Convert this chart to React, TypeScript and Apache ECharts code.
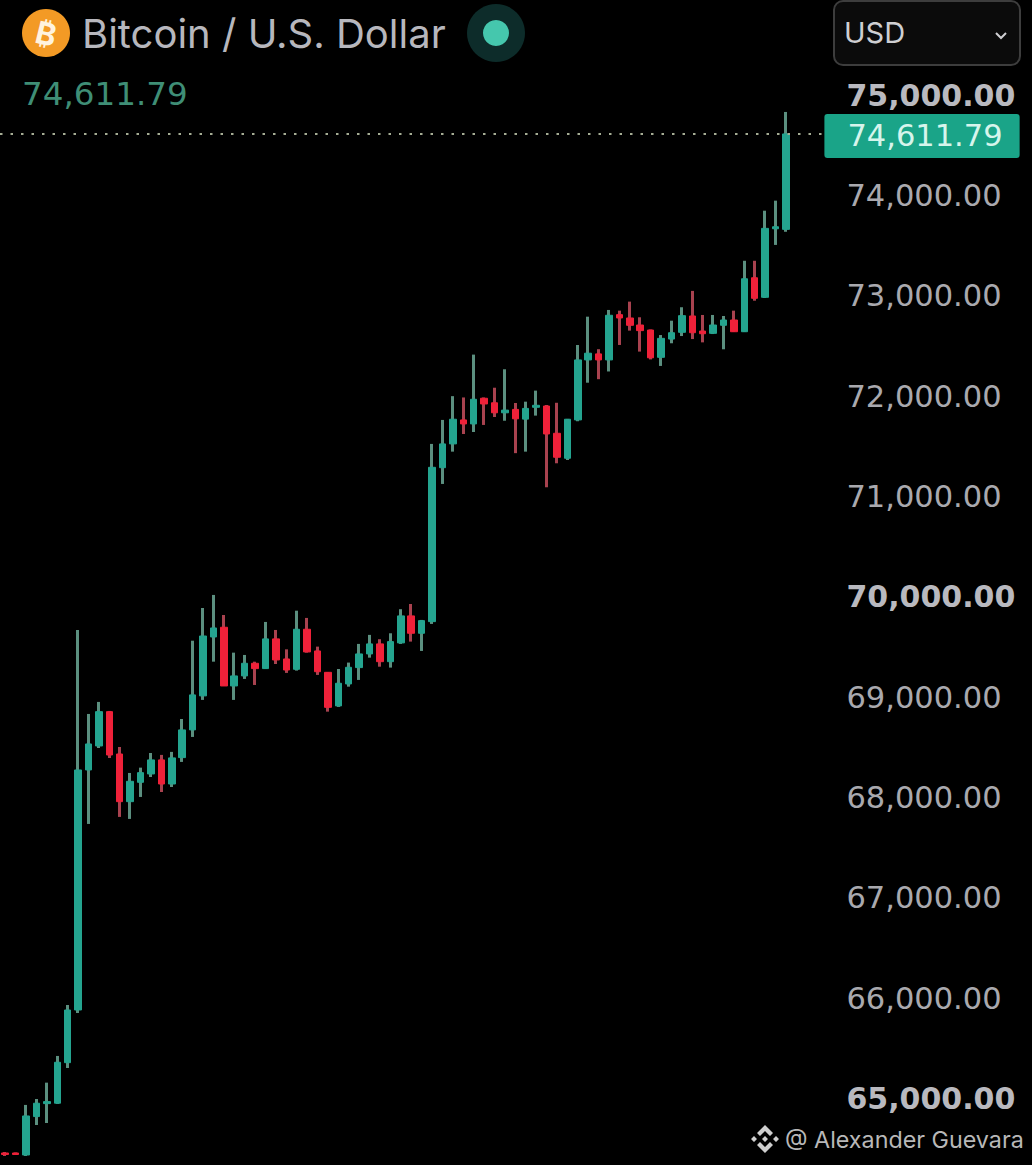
import React, { useEffect, useRef } from "react";
import * as echarts from "echarts";

const opens = [64457,64457,64437,64820,64949,64953,65357,65882,68274,68513,68855,68433,67958,68151,68234,68374,68134,68397,68673,69012,69599,69696,69111,69211,69337,69284,69580,69380,69277,69676,69460,69247,68912,69131,69294,69430,69530,69353,69540,69809,69636,69752,71286,71523,71762,71722,71978,71933,71833,71867,71770,71888,71901,71629,71380,71762,72360,72420,72360,72811,72778,72708,72658,72386,72568,72635,72798,72648,72625,72705,72758,72641,73179,72984,73667,73661];
const closes = [64442,64442,64826,64953,64969,65361,65882,68274,68533,68855,68423,67958,68161,68247,68374,68134,68394,68673,69022,69609,69689,69111,69211,69337,69284,69580,69370,69270,69676,69450,69253,68898,69138,69297,69430,69530,69353,69553,69809,69636,69762,71290,71523,71769,71722,71968,71921,71833,71860,71773,71877,71908,71622,71390,71769,72360,72427,72360,72805,72778,72705,72652,72381,72575,72631,72801,72631,72621,72708,72758,72641,73169,72974,73671,73687,74611.79];
const lows = [64427,64437,64427,64736,64756,64946,65304,65852,67736,68493,68393,67806,67786,68005,68204,68054,68104,68354,68603,68972,69353,69111,68972,69181,69121,69281,69330,69241,69264,69443,69221,68855,68902,69104,69171,69393,69303,69294,69530,69553,69460,69729,71124,71446,71622,71642,71712,71791,71754,71431,71446,71805,71091,71330,71363,71749,72133,72168,72245,72509,72652,72443,72365,72300,72526,72598,72568,72535,72618,72466,72638,72638,72950,72977,73506,73637];
const highs = [64467,64462,64936,64995,65158,65424,65932,69669,68832,68952,68862,68503,68244,68297,68443,68424,68454,68782,69562,69888,70018,69818,69443,69420,69353,69749,69669,69476,69861,69789,69503,69250,69280,69344,69530,69620,69577,69636,69876,69928,69769,71523,71762,71999,71986,72413,71986,72083,72267,71931,71944,72054,71911,71933,71772,72509,72791,72467,72858,72851,72941,72785,72663,72608,72751,72885,73048,72808,72808,72798,72851,73348,73348,73847,73947,74831];
const tickValues = [65000,66000,67000,68000,69000,70000,71000,72000,73000,74000,75000];
const boldTicks = [65000,70000,75000];
const lastPrice = 74611.79;
const title = "Bitcoin / U.S. Dollar";
const currency = "USD";
const credit = "@ Alexander Guevara";

const fmt = (v: number) => v.toLocaleString("en-US", { minimumFractionDigits: 2, maximumFractionDigits: 2 });
const FONT = "Inter, sans-serif";
const NUM_FONT = '"DejaVu Sans", sans-serif';

const BINANCE = "M0,-14 L8,-6 L5,-3 L0,-8 L-5,-3 L-8,-6 Z M0,14 L8,6 L5,3 L0,8 L-5,3 L-8,6 Z M-14,0 L-11,-3 L-8,0 L-11,3 Z M14,0 L11,-3 L8,0 L11,3 Z M0,-3 L3,0 L0,3 L-3,0 Z";

export default function App() {
  const ref = useRef<HTMLDivElement>(null);
  useEffect(() => {
    document.body.style.margin = "0";
    document.body.style.background = "#000";
    echarts.graphic.registerShape("binance", echarts.graphic.extendPath(BINANCE as any, {}));
    const chart = echarts.init(ref.current!, null, { renderer: "svg" });
    const categories = [...opens.map((_, i) => String(i + 1)), "", "", ""];
    const full = opens.map((o, i) => [o, closes[i], lows[i], highs[i]]);
    const bodies = opens.map((o, i) => [o, closes[i], Math.min(o, closes[i]), Math.max(o, closes[i])]);
    chart.setOption({
      animation: false,
      backgroundColor: "#000000",
      grid: { left: 0, width: 822.4, top: -5.35, height: 1204.2, outerBoundsMode: "none" },
      xAxis: { type: "category", data: categories, show: false, boundaryGap: true },
      yAxis: {
        type: "value",
        position: "right",
        min: 64000,
        max: 76000,
        interval: 1000,
        splitLine: { show: false },
        axisLine: { show: false },
        axisTick: { show: false },
        axisLabel: {
          customValues: tickValues,
          margin: 24,
          formatter: (v: number) => (boldTicks.includes(v) ? `{b|${fmt(v)}}` : `{r|${fmt(v)}}`),
          rich: {
            b: { fontFamily: NUM_FONT, fontSize: 30, fontWeight: 700, color: "#b9b9bf" },
            r: { fontFamily: NUM_FONT, fontSize: 30.5, fontWeight: 400, color: "#a9a9ae" },
          },
        },
      },
      series: [
        {
          name: "wicks",
          type: "candlestick",
          barWidth: 1,
          data: full,
          itemStyle: { color: "#5b8f7f", color0: "#a8424f", borderColor: "#5b8f7f", borderColor0: "#a8424f", borderWidth: 3 },
          markLine: {
            symbol: "none",
            silent: true,
            data: [{ yAxis: lastPrice }],
            lineStyle: { type: [2.5, 8], color: "#a5ad94", width: 2, opacity: 1 },
            label: {
              show: true,
              position: "end",
              distance: 2,
              offset: [0, 2],
              formatter: fmt(lastPrice),
              fontFamily: NUM_FONT,
              fontSize: 30.5,
              color: "#d6f5ec",
              backgroundColor: "#1aa488",
              borderRadius: 3,
              padding: [0, 17, 4, 23],
              lineHeight: 40,
              height: 40,
            },
          },
        },
        {
          name: "bodies",
          type: "candlestick",
          barWidth: 7,
          data: bodies,
          itemStyle: { color: "#24a48f", color0: "#ef2139", borderColor: "#24a48f", borderColor0: "#ef2139", borderWidth: 1 },
        },
      ],
      graphic: [
        { type: "circle", shape: { cx: 46, cy: 33, r: 24 }, style: { fill: "#f39a25" } },
        { type: "text", x: 46, y: 34, rotation: -0.24, style: { x: 0, y: 0, text: "₿", fill: "#fff3df", font: `bold 31px "DejaVu Sans", ${FONT}`, textAlign: "center", textVerticalAlign: "middle" } },
        { type: "text", style: { x: 82, y: 33, text: title, fill: "#b7b7bd", font: `400 40px ${FONT}`, textAlign: "left", textVerticalAlign: "middle" } },
        { type: "circle", shape: { cx: 496, cy: 33, r: 29 }, style: { fill: "#0d2c2a" } },
        { type: "circle", shape: { cx: 496, cy: 33, r: 13 }, style: { fill: "#45c7ad" } },
        { type: "text", style: { x: 22, y: 94, text: fmt(lastPrice), fill: "#3f8e76", font: `400 32.6px ${NUM_FONT}`, textAlign: "left", textVerticalAlign: "middle" } },
        { type: "rect", shape: { x: 834, y: 1, width: 186, height: 64, r: 9 }, style: { fill: "#0b0b0b", stroke: "#3d3d3d", lineWidth: 2 } },
        { type: "text", style: { x: 844, y: 32, text: currency, fill: "#cfcfd2", font: `400 29px ${FONT}`, textAlign: "left", textVerticalAlign: "middle" } },
        { type: "polyline", shape: { points: [[996, 33], [1001, 38], [1006, 33]] }, style: { stroke: "#cfcfd2", lineWidth: 2, fill: "none" } },
        { type: "binance", x: 765, y: 1139, scaleX: 1, scaleY: 1, style: { fill: "#cfcfcf" } },
        { type: "text", style: { x: 785, y: 1139, text: credit, fill: "#b8b8b8", font: `400 23.3px ${FONT}`, textAlign: "left", textVerticalAlign: "middle" } },
      ],
    });
    return () => chart.dispose();
  }, []);
  return <div ref={ref} style={{ width: 1032, height: 1165 }} />;
}
